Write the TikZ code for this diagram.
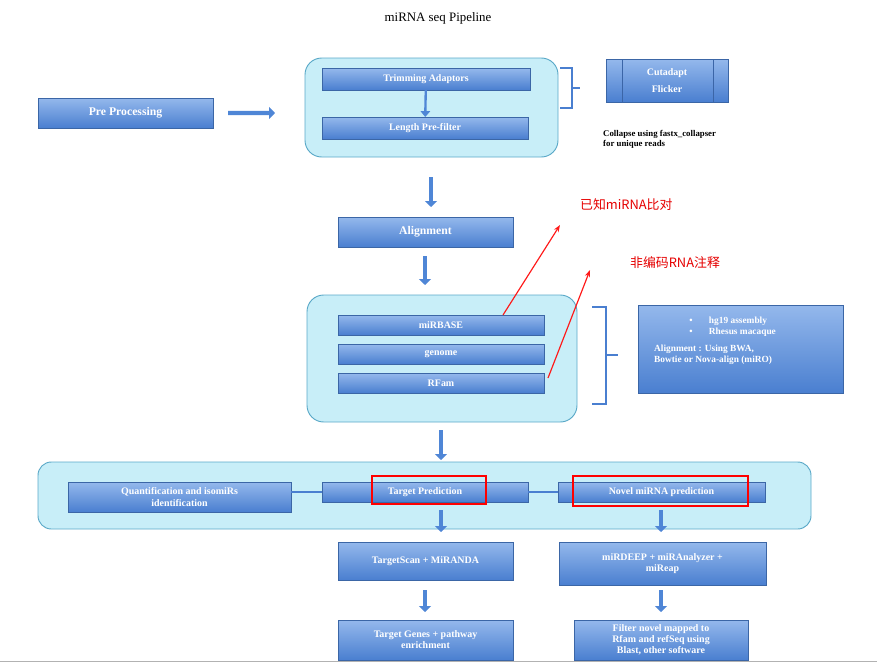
\documentclass[tikz,border=0pt]{standalone}
\usepackage{fontspec}
\setmainfont{Liberation Serif}
\newfontfamily\cjk{Noto Sans CJK SC}
\usetikzlibrary{arrows.meta,shadows,shapes.arrows}
\definecolor{btop}{HTML}{94B8EC}
\definecolor{bbot}{HTML}{4A7FD0}
\definecolor{cfill}{HTML}{C8EEF8}
\definecolor{cdraw}{HTML}{5BA9C8}
\definecolor{arr}{HTML}{4F86D6}
\tikzset{
  x=0.03cm, y=-0.03cm,
  box/.style={draw=bbot!80!black, line width=0.3pt, top color=btop, bottom color=bbot, text=white, font=\bfseries\fontsize{8.5}{9.5}\selectfont, align=center, inner sep=1pt, drop shadow={shadow xshift=0.4pt, shadow yshift=-0.6pt, opacity=0.35}},
  cont/.style={draw=cdraw, line width=0.8pt, fill=cfill, rounded corners=0.5cm},
  blk/.style={draw=arr, line width=3.5pt, -{Triangle[length=5pt,width=10pt]}},
  hl/.style={draw=red, line width=1.2pt},
  rarr/.style={draw=red!90, line width=1pt, -{Stealth[length=6pt]}},
  br/.style={draw=bbot, line width=1.5pt},
  lab/.style={font=\bfseries\fontsize{7.5}{8.5}\selectfont, align=left, anchor=north west, inner sep=0pt}
}
\newcommand{\bx}[6]{\node[box, minimum width=#4*0.03cm-0.3pt, minimum height=#5*0.03cm-0.3pt, anchor=north west] (#1) at (#2,#3) {#6};}
\begin{document}
\begin{tikzpicture}
\useasboundingbox (0,0) rectangle (877,668);
\node[font=\fontsize{11}{12}\selectfont] (title) at (438,18) {miRNA seq Pipeline};
% stage 1
\bx{pre}{38}{98}{175}{30}{\fontsize{10}{11}\selectfont Pre Processing}
\draw[cont] (305,58) rectangle (558,157);
\coordinate (c1w) at (305,113);
\coordinate (c1s) at (431,157);
\bx{trim}{322}{68}{208}{22}{Trimming Adaptors}
\bx{len}{322}{117}{206}{22}{Length Pre-filter}
\draw[arr, line width=2pt, -{Triangle[length=5pt,width=8pt]}] (trim) -- (len);
\draw[blk, shorten <=15*0.03cm, shorten >=30*0.03cm] (pre.east) -- (c1w);
\draw[br] (560,68) -- (572,68) -- (572,108) -- (560,108) (572,88) -- (580,88);
\bx{cut}{606}{59}{122}{43}{Cutadapt\\[5pt]Flicker}
\draw[bbot!80!black, line width=0.4pt] (622,59) -- (622,102) (713,59) -- (713,102);
\node[lab] (col) at (603,130) {Collapse using fastx\_collapser\\for unique reads};
% alignment
\bx{aln}{338}{217}{175}{30}{\fontsize{10}{11}\selectfont Alignment}
\draw[blk, shorten <=20*0.03cm, shorten >=10*0.03cm] (c1s) -- (aln.north -| c1s);
\draw[cont] (307,295) rectangle (577,422);
\coordinate (c2n) at (425,295);
\coordinate (c2s) at (441,422);
\draw[blk, shorten <=9*0.03cm, shorten >=10*0.03cm] (aln.south -| c2n) -- (c2n);
\bx{mirb}{338}{315}{206}{20}{miRBASE}
\bx{gen}{338}{344}{206}{20}{genome}
\bx{rfam}{338}{373}{206}{20}{RFam}
\draw[br] (592,307) -- (606,307) -- (606,404) -- (592,404) (606,355) -- (618,355);
\bx{info}{638}{305}{205}{88}{}
\node[font=\bfseries\fontsize{8}{9.5}\selectfont, text=white, align=left, anchor=north west] (infot) at (650,313) {\hspace*{30pt}\textbullet\hspace{14pt}hg19 assembly\\\hspace*{30pt}\textbullet\hspace{14pt}Rhesus macaque\\[5pt]Alignment : Using BWA,\\Bowtie or Nova-align (miRO)};
\node[text=red!90!black, font=\cjk\fontsize{11}{13}\selectfont, anchor=west] (k1) at (576,205) {已知miRNA比对};
\node[text=red!90!black, font=\cjk\fontsize{11}{13}\selectfont, anchor=west] (k2) at (626,263) {非编码RNA注释};
\draw[rarr] (503,315) -- (560,225);
\draw[rarr] (548,378) -- (590,270);
% stage 3
\draw[cont, rounded corners=0.4cm] (38,462) rectangle (811,529);
\coordinate (c3n) at (441,462);
\draw[blk, shorten <=8*0.03cm, shorten >=2*0.03cm] (c2s) -- (c3n);
\bx{quant}{68}{482}{223}{30}{Quantification and isomiRs\\identification}
\bx{targ}{322}{482}{206}{20}{Target Prediction}
\bx{nov}{558}{482}{207}{20}{Novel miRNA prediction}
\draw[bbot, line width=1pt] (quant.east |- targ.west) -- (targ.west) (targ) -- (nov);
\draw[hl] (372,476) rectangle (486,504);
\draw[hl] (573,476) rectangle (748,506);
\bx{ts}{338}{542}{175}{38}{TargetScan + MiRANDA}
\bx{mdp}{559}{542}{207}{43}{miRDEEP + miRAnalyzer +\\miReap}
\coordinate (a1) at (441,502);
\coordinate (a2) at (661,502);
\draw[blk, shorten <=8*0.03cm, shorten >=10*0.03cm] (a1) -- (ts.north -| a1);
\draw[blk, shorten <=8*0.03cm, shorten >=10*0.03cm] (a2) -- (mdp.north -| a2);
\bx{tg}{338}{620}{175}{40}{Target Genes + pathway\\enrichment}
\bx{fn}{574}{620}{174}{40}{Filter novel mapped to\\Rfam and refSeq using\\Blast, other software}
\draw[blk, shorten <=10*0.03cm, shorten >=8*0.03cm] (ts.south -| 425,0) -- (tg.north -| 425,0);
\draw[blk, shorten <=5*0.03cm, shorten >=8*0.03cm] (mdp.south -| a2) -- (fn.north -| a2);
\draw[gray!60, line width=0.6pt] (0,661) -- (877,661);
\end{tikzpicture}
\end{document}
